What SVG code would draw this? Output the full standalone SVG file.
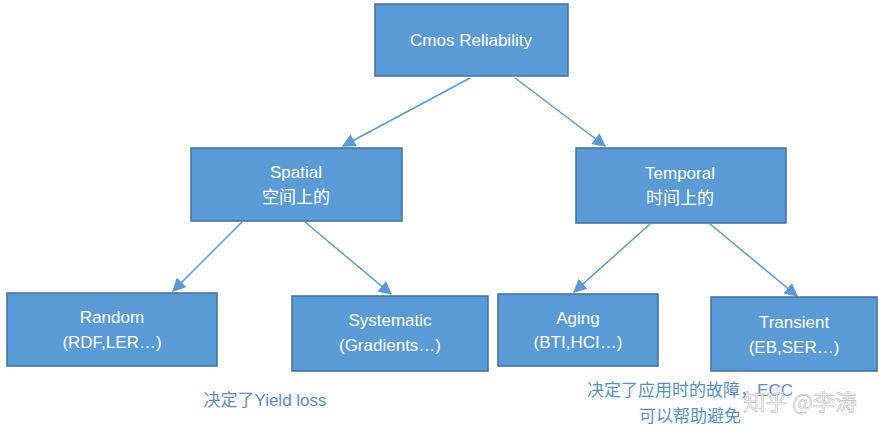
<svg xmlns="http://www.w3.org/2000/svg" width="879" height="436" viewBox="0 0 879 436">
<style>
.box{fill:#5b9bd5;stroke:#41719c;stroke-width:1.5}
.t{font-family:"Liberation Sans","Noto Sans CJK SC",sans-serif;font-size:17px;fill:#fff;text-anchor:middle}
.n{font-family:"Liberation Sans","Noto Sans CJK SC",sans-serif;font-size:17px;fill:#5b8fc7;text-anchor:middle}
.c{stroke:#5b9bd5;stroke-width:1.5;fill:none;marker-end:url(#a)}
</style>
<defs><marker id="a" viewBox="0 0 10 10" refX="9" refY="5" markerWidth="9" markerHeight="9" orient="auto"><path d="M0,0L10,5L0,10z" fill="#5b9bd5"/></marker></defs>
<rect width="879" height="436" fill="#fff"/>
<g id="connectors">
<line class="c" x1="470" y1="78" x2="343" y2="146"/>
<line class="c" x1="515" y1="78" x2="605" y2="146"/>
<line class="c" x1="242" y1="222" x2="173" y2="291"/>
<line class="c" x1="305" y1="222" x2="391" y2="294"/>
<line class="c" x1="650" y1="224" x2="574" y2="292"/>
<line class="c" x1="710" y1="224" x2="797" y2="296"/>
</g>
<g id="root"><rect class="box" x="375" y="4" width="193" height="72"/><text class="t" x="471" y="46">Cmos Reliability</text></g>
<g id="spatial"><rect class="box" x="191" y="148" width="211" height="73"/><text class="t" x="296" y="178">Spatial</text><text class="t" x="296" y="203">空间上的</text></g>
<g id="temporal"><rect class="box" x="576" y="148" width="210" height="75"/><text class="t" x="680" y="179">Temporal</text><text class="t" x="680" y="204">时间上的</text></g>
<g id="random"><rect class="box" x="7" y="293" width="210" height="73"/><text class="t" x="112" y="323">Random</text><text class="t" x="112" y="348">(RDF,LER…)</text></g>
<g id="systematic"><rect class="box" x="292" y="296" width="196" height="75"/><text class="t" x="390" y="326">Systematic</text><text class="t" x="390" y="351">(Gradients…)</text></g>
<g id="aging"><rect class="box" x="498" y="294" width="160" height="72"/><text class="t" x="578" y="324">Aging</text><text class="t" x="578" y="348">(BTI,HCI…)</text></g>
<g id="transient"><rect class="box" x="711" y="297" width="166" height="74"/><text class="t" x="794" y="328">Transient</text><text class="t" x="794" y="353">(EB,SER…)</text></g>
<text class="n" x="265" y="406">决定了Yield loss</text>
<text class="n" x="690" y="396">决定了应用时的故障，ECC</text>
<text class="n" x="690" y="422">可以帮助避免</text>
<text x="800" y="410" style="font-family:'Noto Sans CJK SC',sans-serif;font-size:22px;fill:#fff;stroke:#aaa;stroke-width:0.6;text-anchor:middle;opacity:0.8">知乎 @李涛</text>
</svg>
